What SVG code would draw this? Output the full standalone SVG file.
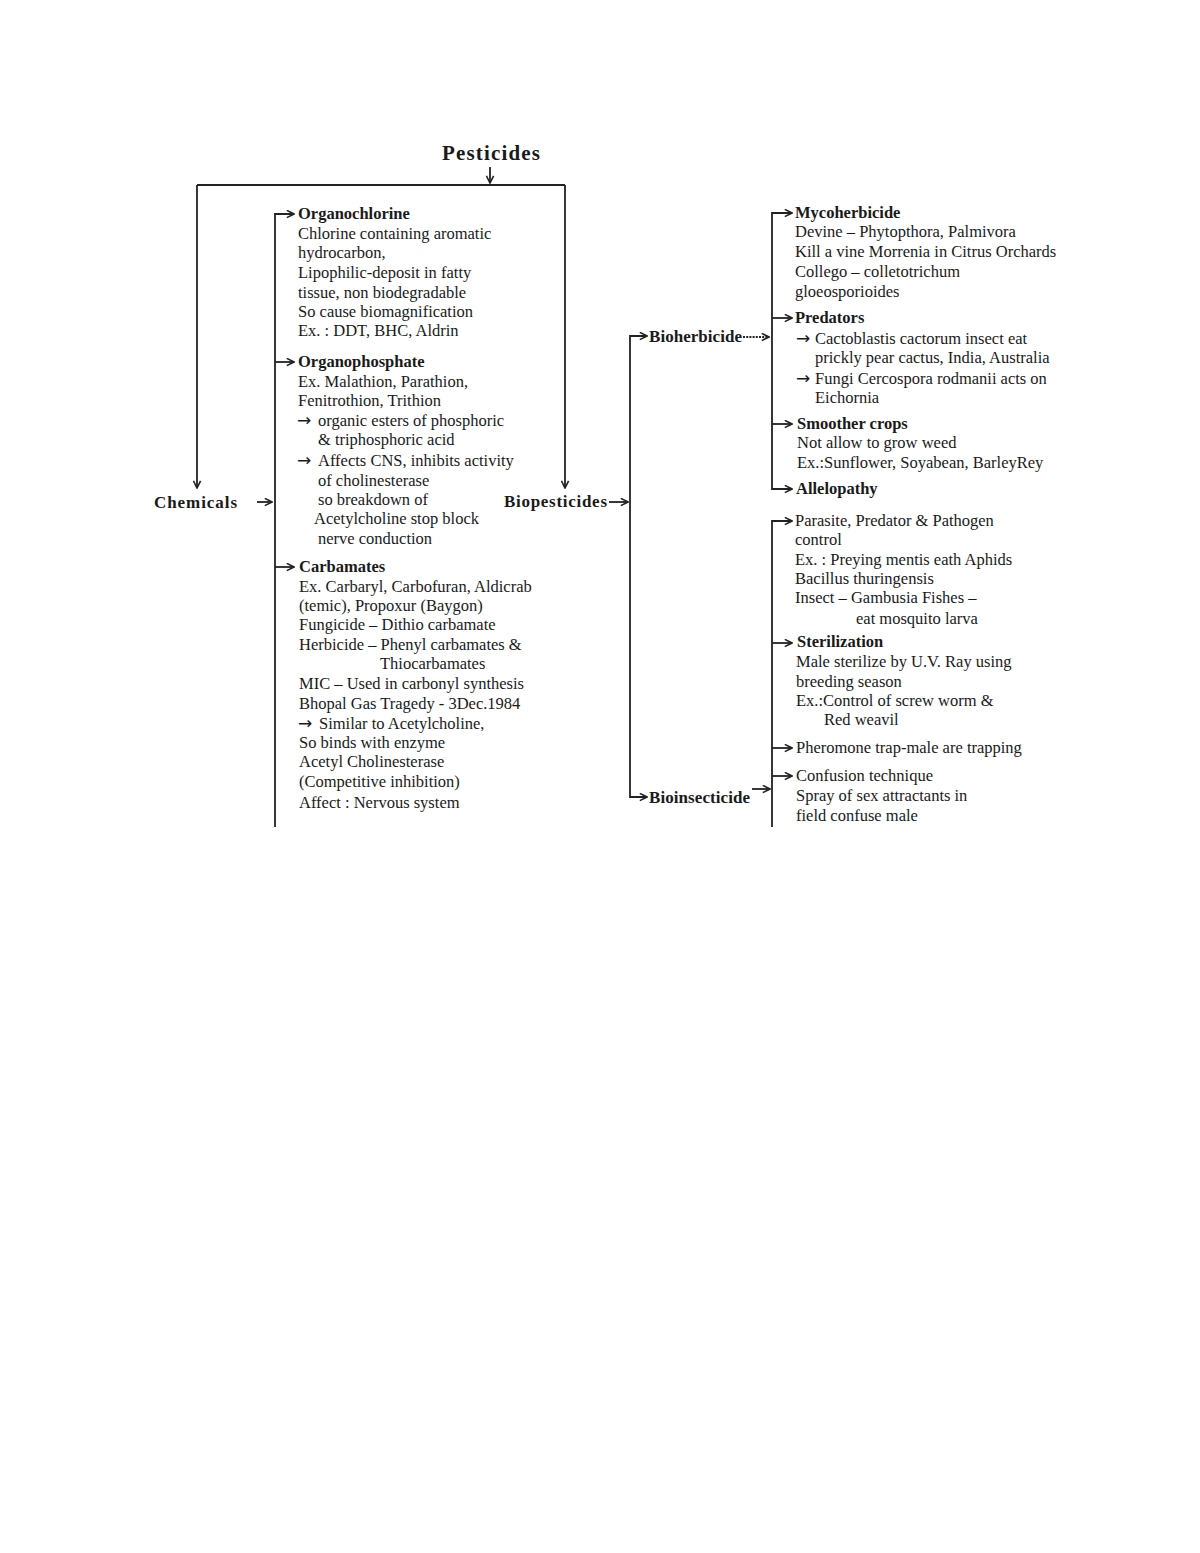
<svg xmlns="http://www.w3.org/2000/svg" width="1200" height="1553" viewBox="0 0 1200 1553">
<defs>
<style>
.t{font-family:"Liberation Serif","Times New Roman",serif;font-size:16.5px;fill:#1a1a1a}
.b{font-weight:bold}
.h{font-family:"Liberation Serif","Times New Roman",serif;font-weight:bold;fill:#1a1a1a}
.a{font-family:"DejaVu Sans",sans-serif;font-size:17px;font-weight:normal}
.c{fill:none;stroke:#222;stroke-width:1.8}
.d{stroke-dasharray:2 1.2}
</style>
<marker id="ar" viewBox="0 0 10 10" refX="9" refY="5" markerWidth="9" markerHeight="9" markerUnits="userSpaceOnUse" orient="auto">
<path d="M1,1 L9,5 L1,9" fill="none" stroke="#222" stroke-width="1.8"/>
</marker>
</defs>
<rect width="1200" height="1553" fill="#fff"/>

<g id="connectors">
<path class="c" d="M490,167 V183" marker-end="url(#ar)"/>
<path class="c" d="M197,185 H565"/>
<path class="c" d="M197,185 V488" marker-end="url(#ar)"/>
<path class="c" d="M565,185 V488" marker-end="url(#ar)"/>
<path class="c" d="M257,502 H272" marker-end="url(#ar)"/>
<path class="c" d="M275,827 V214 H294" marker-end="url(#ar)"/>
<path class="c" d="M275,362 H294" marker-end="url(#ar)"/>
<path class="c" d="M275,567 H294" marker-end="url(#ar)"/>
<path class="c" d="M609,502 H628" marker-end="url(#ar)"/>
<path class="c" d="M630,502 V336 H647" marker-end="url(#ar)"/>
<path class="c" d="M630,502 V797 H647" marker-end="url(#ar)"/>
<path class="c d" d="M743,337 H769" marker-end="url(#ar)"/>
<path class="c" d="M772,350 V213 H792" marker-end="url(#ar)"/>
<path class="c" d="M772,350 V489 H792" marker-end="url(#ar)"/>
<path class="c" d="M772,318 H792" marker-end="url(#ar)"/>
<path class="c" d="M772,424 H792" marker-end="url(#ar)"/>
<path class="c" d="M752,789 H770" marker-end="url(#ar)"/>
<path class="c" d="M772,827 V521 H792" marker-end="url(#ar)"/>
<path class="c" d="M772,643 H792" marker-end="url(#ar)"/>
<path class="c" d="M772,748 H792" marker-end="url(#ar)"/>
<path class="c" d="M772,776 H792" marker-end="url(#ar)"/>
</g>

<g id="pesticides"><text class="h" x="442" y="160" font-size="21" textLength="98">Pesticides</text></g>
<g id="chemicals"><text class="h" x="154" y="508" font-size="17" textLength="83">Chemicals</text></g>
<g id="biopesticides"><text class="h" x="504" y="507" font-size="17" textLength="103">Biopesticides</text></g>
<g id="bioherbicide"><text class="h" x="649" y="342" font-size="17" textLength="93">Bioherbicide</text></g>
<g id="bioinsecticide"><text class="h" x="649" y="803" font-size="17" textLength="101">Bioinsecticide</text></g>

<g id="organochlorine">
<text class="t b" x="298" y="219">Organochlorine</text>
<text class="t" x="298" y="239">Chlorine containing aromatic</text>
<text class="t" x="298" y="258">hydrocarbon,</text>
<text class="t" x="298" y="278">Lipophilic-deposit in fatty</text>
<text class="t" x="298" y="298">tissue, non biodegradable</text>
<text class="t" x="298" y="317">So cause biomagnification</text>
<text class="t" x="298" y="336">Ex. : DDT, BHC, Aldrin</text>
</g>

<g id="organophosphate">
<text class="t b" x="298" y="367">Organophosphate</text>
<text class="t" x="298" y="387">Ex. Malathion, Parathion,</text>
<text class="t" x="298" y="406">Fenitrothion, Trithion</text>
<text class="t" x="297" y="426"><tspan class="a">→</tspan><tspan x="318">organic esters of phosphoric</tspan></text>
<text class="t" x="318" y="445">&amp; triphosphoric acid</text>
<text class="t" x="297" y="466"><tspan class="a">→</tspan><tspan x="318">Affects CNS, inhibits activity</tspan></text>
<text class="t" x="318" y="486">of cholinesterase</text>
<text class="t" x="318" y="505">so breakdown of</text>
<text class="t" x="314" y="524">Acetylcholine stop block</text>
<text class="t" x="318" y="544">nerve conduction</text>
</g>

<g id="carbamates">
<text class="t b" x="299" y="572">Carbamates</text>
<text class="t" x="299" y="592">Ex. Carbaryl, Carbofuran, Aldicrab</text>
<text class="t" x="299" y="611">(temic), Propoxur (Baygon)</text>
<text class="t" x="299" y="630">Fungicide – Dithio carbamate</text>
<text class="t" x="299" y="650">Herbicide – Phenyl carbamates &amp;</text>
<text class="t" x="380" y="669">Thiocarbamates</text>
<text class="t" x="299" y="689">MIC – Used in carbonyl synthesis</text>
<text class="t" x="299" y="709">Bhopal Gas Tragedy - 3Dec.1984</text>
<text class="t" x="298" y="729"><tspan class="a">→</tspan><tspan x="319">Similar to Acetylcholine,</tspan></text>
<text class="t" x="299" y="748">So binds with enzyme</text>
<text class="t" x="299" y="767">Acetyl Cholinesterase</text>
<text class="t" x="299" y="787">(Competitive inhibition)</text>
<text class="t" x="299" y="808">Affect : Nervous system</text>
</g>

<g id="mycoherbicide">
<text class="t b" x="795" y="218">Mycoherbicide</text>
<text class="t" x="795" y="237">Devine – Phytopthora, Palmivora</text>
<text class="t" x="795" y="257">Kill a vine Morrenia in Citrus Orchards</text>
<text class="t" x="795" y="277">Collego – colletotrichum</text>
<text class="t" x="795" y="297">gloeosporioides</text>
</g>

<g id="predators">
<text class="t b" x="795" y="323">Predators</text>
<text class="t" x="796" y="344"><tspan class="a">→</tspan><tspan x="815">Cactoblastis cactorum insect eat</tspan></text>
<text class="t" x="815" y="363">prickly pear cactus, India, Australia</text>
<text class="t" x="796" y="384"><tspan class="a">→</tspan><tspan x="815">Fungi Cercospora rodmanii acts on</tspan></text>
<text class="t" x="815" y="403">Eichornia</text>
</g>

<g id="smoother-crops">
<text class="t b" x="797" y="429">Smoother crops</text>
<text class="t" x="797" y="448">Not allow to grow weed</text>
<text class="t" x="797" y="468">Ex.:Sunflower, Soyabean, BarleyRey</text>
</g>

<g id="allelopathy"><text class="t b" x="796" y="494">Allelopathy</text></g>

<g id="parasite-control">
<text class="t" x="795" y="526">Parasite, Predator &amp; Pathogen</text>
<text class="t" x="795" y="545">control</text>
<text class="t" x="795" y="565">Ex. : Preying mentis eath Aphids</text>
<text class="t" x="795" y="584">Bacillus thuringensis</text>
<text class="t" x="795" y="603">Insect – Gambusia Fishes –</text>
<text class="t" x="856" y="624" font-size="14.5">eat mosquito larva</text>
</g>

<g id="sterilization">
<text class="t b" x="797" y="647">Sterilization</text>
<text class="t" x="796" y="667">Male sterilize by U.V. Ray using</text>
<text class="t" x="796" y="687">breeding season</text>
<text class="t" x="796" y="706">Ex.:Control of screw worm &amp;</text>
<text class="t" x="824" y="725">Red weavil</text>
</g>

<g id="pheromone"><text class="t" x="796" y="753">Pheromone trap-male are trapping</text></g>

<g id="confusion">
<text class="t" x="796" y="781">Confusion technique</text>
<text class="t" x="796" y="801">Spray of sex attractants in</text>
<text class="t" x="796" y="821">field confuse male</text>
</g>
</svg>
